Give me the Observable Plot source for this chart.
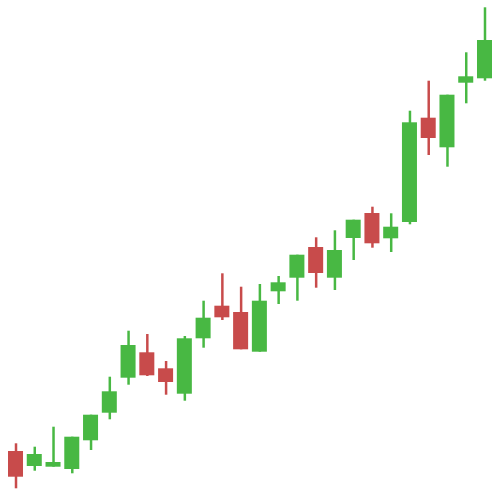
<!DOCTYPE html>
<html>
<head>
<meta charset="utf-8">
<script src="https://cdn.jsdelivr.net/npm/d3@7"></script>
<script src="https://cdn.jsdelivr.net/npm/@observablehq/plot@0.6"></script>
<style>
  html, body { margin: 0; padding: 0; background: #fff; }
  #chart { width: 501px; height: 500px; }
</style>
</head>
<body>
<div id="chart"></div>
<script>
const days  = d3.range(1, 27);
const open  = [49, 34, 33.3, 31, 59.7, 87.3, 122.3, 147.7, 131.7, 106.3, 161.7, 194.3, 188, 148.3, 208.7, 222.3, 253, 222.3, 262, 287, 261.7, 278, 382.3, 352.7, 417.3, 421.7];
const high  = [56.7, 53.3, 73.3, 63.3, 85.3, 123.3, 169.3, 166, 139, 164, 199.3, 226.7, 213.3, 216, 224, 245.3, 262.7, 269.7, 280.3, 293.3, 286.7, 389.3, 419.3, 405.3, 447.7, 492.7];
const low   = [11.7, 29.3, 33.3, 26.7, 50, 80.7, 115.3, 124, 105.3, 99.3, 152.3, 180, 150.7, 148.3, 196, 199.3, 212.3, 210, 240, 252.3, 248, 275.7, 345, 333.3, 396.7, 419.3];
const close = [23.3, 46, 38, 63.3, 85.3, 108.7, 155, 124.7, 118, 161.7, 182.3, 182.7, 150.7, 199.3, 217.7, 245.3, 227, 250, 280.3, 256.7, 273.3, 377.7, 362, 405.3, 423.7, 460];

const data = days.map((d, i) => ({
  day: d, open: open[i], high: high[i], low: low[i], close: close[i],
  dir: close[i] >= open[i] ? "up" : "down"
}));

const chart = Plot.plot({
  width: 501,
  height: 500,
  marginTop: 0,
  marginBottom: 0,
  marginLeft: 4.25,
  marginRight: 5.25,
  x: {type: "band", domain: days, padding: 0.2, round: false, axis: null},
  y: {domain: [0, 500], axis: null},
  color: {domain: ["up", "down"], range: ["#48b843", "#c84b4b"]},
  marks: [
    Plot.ruleX(data, {x: "day", y1: "low", y2: "high", stroke: "dir", strokeWidth: 2.5}),
    Plot.barY(data, {x: "day", y1: "open", y2: "close", fill: "dir"})
  ]
});
document.getElementById("chart").appendChild(chart);
</script>
</body>
</html>
